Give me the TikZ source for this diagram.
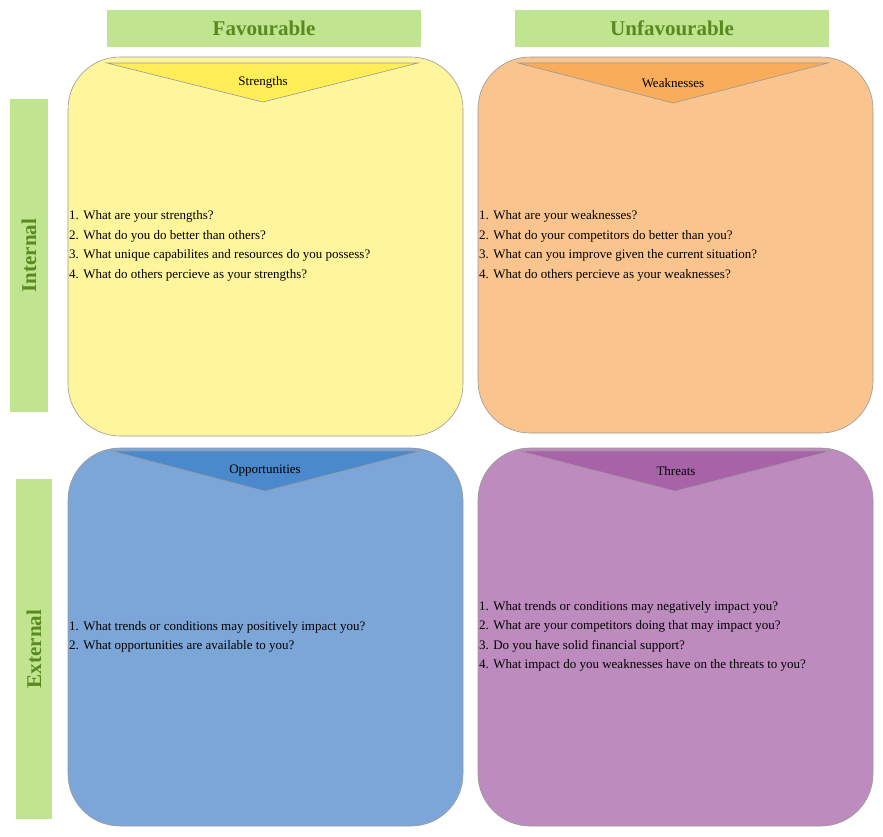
\documentclass[tikz,border=0pt]{standalone}
\usepackage{fontspec}
\setmainfont{Liberation Serif}
\begin{document}
\begin{tikzpicture}[x=1pt,y=-1pt,
 hdr/.style={fill=hgreen,draw=none,text=htext,font=\fontsize{21}{24}\selectfont\bfseries},
 quad/.style={draw=gray!80,line width=0.6pt,rounded corners=52pt},
 tri/.style={draw=gray!80,line width=0.6pt},
 lbl/.style={font=\fontsize{13}{15}\selectfont,inner sep=0},
 body/.style={font=\fontsize{13}{19.5}\selectfont,align=left,anchor=west,inner sep=0}]
\definecolor{hgreen}{HTML}{C1E491}
\definecolor{htext}{HTML}{5A8A1E}
\definecolor{yq}{HTML}{FFF59D}\definecolor{yt}{HTML}{FFEE58}
\definecolor{oq}{HTML}{FAC48E}\definecolor{ot}{HTML}{F9AC5A}
\definecolor{bq}{HTML}{7CA6D7}\definecolor{bt}{HTML}{4A89CB}
\definecolor{pq}{HTML}{BE8BBF}\definecolor{pt}{HTML}{A862A8}
\useasboundingbox (0,0) rectangle (883,836);
\fill[white] (0,0) rectangle (883,836);
\node[hdr,minimum width=314,minimum height=37] (fav) at (264,28.5) {Favourable};
\node[hdr,minimum width=314,minimum height=37] (unf) at (672,28.5) {Unfavourable};
\node[hdr,minimum width=313,minimum height=38,rotate=90] (int) at (29,255.5) {Internal};
\node[hdr,minimum width=340,minimum height=36,rotate=90] (ext) at (34,649) {External};
\draw[quad,fill=yq] (68,57) rectangle (463,436);
\draw[quad,fill=oq] (478,57) rectangle (873,433);
\draw[quad,fill=bq] (68,448) rectangle (463,826);
\draw[quad,fill=pq] (478,448) rectangle (873,826);
\draw[tri,fill=yt] (107,63) -- (418,63) -- (263,102) -- cycle;
\draw[tri,fill=ot] (518,63) -- (828,63) -- (673,103) -- cycle;
\draw[tri,fill=bt] (112,451) -- (420,451) -- (265,491) -- cycle;
\draw[tri,fill=pt] (520,451) -- (830,451) -- (675,491) -- cycle;
\node[lbl] (s) at (263,82) {Strengths};
\node[lbl] (w) at (673,83) {Weaknesses};
\node[lbl] (o) at (265,471) {Opportunities};
\node[lbl] (t) at (676,471) {Threats};
\node[body] (sb) at (69,246) {1. What are your strengths?\\2. What do you do better than others?\\3. What unique capabilites and resources do you possess?\\4. What do others percieve as your strengths?};
\node[body] (wb) at (479,246) {1. What are your weaknesses?\\2. What do your competitors do better than you?\\3. What can you improve given the current situation?\\4. What do others percieve as your weaknesses?};
\node[body] (ob) at (69,637) {1. What trends or conditions may positively impact you?\\2. What opportunities are available to you?};
\node[body] (tb) at (479,636.5) {1. What trends or conditions may negatively impact you?\\2. What are your competitors doing that may impact you?\\3. Do you have solid financial support?\\4. What impact do you weaknesses have on the threats to you?};
\end{tikzpicture}
\end{document}
